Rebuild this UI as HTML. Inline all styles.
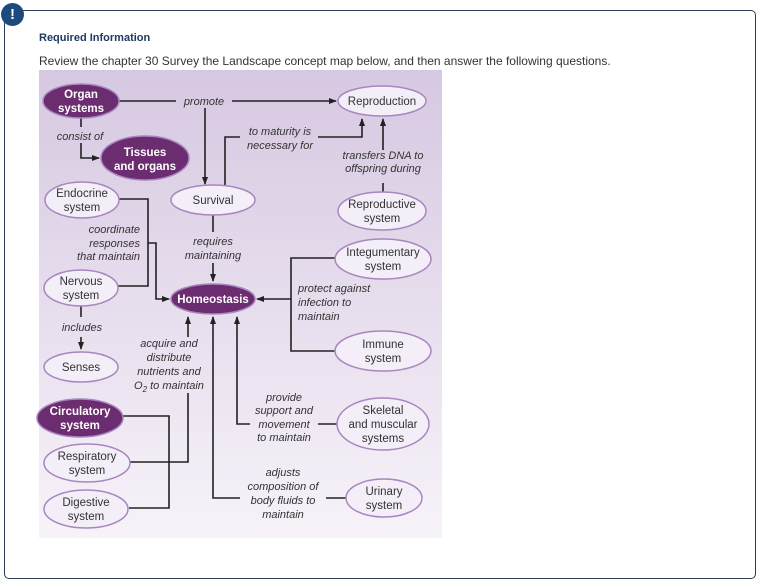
<!DOCTYPE html>
<html><head><meta charset="utf-8"><style>
body{margin:0;width:777px;height:587px;background:#fff;position:relative;overflow:hidden;font-family:"Liberation Sans",sans-serif}
.box{position:absolute;left:4px;top:10px;width:750px;height:567px;border:1.5px solid #2c3e55;border-radius:5px}
.ic{position:absolute;left:1px;top:3px;width:23px;height:23px;border-radius:50%;background:#1d4a7c;color:#fff;font-weight:bold;font-size:15px;text-align:center;line-height:23px}
.h{position:absolute;left:39px;top:32px;font-size:11px;font-weight:bold;color:#1f3a60}
.d{position:absolute;left:39px;top:54px;font-size:12px;color:#333}
svg{position:absolute;left:0;top:0}
</style></head><body>
<div class="box"></div><div class="ic">!</div>
<div class="h">Required Information</div>
<div class="d">Review the chapter 30 Survey the Landscape concept map below, and then answer the following questions.</div>
<svg width="777" height="587" font-family="Liberation Sans, sans-serif">
<defs>
<linearGradient id="g" x1="0" y1="0" x2="0" y2="1"><stop offset="0" stop-color="#d6c8e1"/><stop offset="1" stop-color="#f7f3f9"/></linearGradient>
<marker id="a" markerWidth="8" markerHeight="8" refX="7" refY="4" orient="auto" markerUnits="userSpaceOnUse"><path d="M0,1 L8,4 L0,7z" fill="#222"/></marker>
</defs>
<rect x="39" y="70" width="403" height="468" fill="url(#g)"/>
<g stroke="#222" stroke-width="1.6" fill="none">
<path d="M119,101H176M232,101H336" marker-end="url(#a)"/>
<path d="M205,108V184" marker-end="url(#a)"/>
<path d="M225,185V137H240M318,137H362V119" marker-end="url(#a)"/>
<path d="M383,192V183M383,150V119" marker-end="url(#a)"/>
<path d="M81,118V127M81,143V158H99" marker-end="url(#a)"/>
<path d="M119,199H148V286H118M148,243H156V299H169" marker-end="url(#a)"/>
<path d="M213,215V232M213,263V281" marker-end="url(#a)"/>
<path d="M335,258H291V351H335M291,299H257" marker-end="url(#a)"/>
<path d="M81,306V317M81,337V349" marker-end="url(#a)"/>
<path d="M123,416H169V508H129M130,462H188V393M188,337V317" marker-end="url(#a)"/>
<path d="M337,424H318M250,424H237V317" marker-end="url(#a)"/>
<path d="M346,498H326M240,498H213V317" marker-end="url(#a)"/>
</g>
<g stroke="#a886bf" stroke-width="1.5">
<ellipse cx="81" cy="101" rx="38" ry="17" fill="#6b2c70"/>
<ellipse cx="145" cy="158" rx="44" ry="22" fill="#6b2c70"/>
<ellipse cx="213" cy="299" rx="42" ry="15" fill="#6b2c70"/>
<ellipse cx="80" cy="418" rx="43" ry="19" fill="#6b2c70"/>
<g fill="#f3eef7">
<ellipse cx="382" cy="101" rx="44" ry="15"/>
<ellipse cx="82" cy="200" rx="37" ry="18"/>
<ellipse cx="213" cy="200" rx="42" ry="15"/>
<ellipse cx="382" cy="211" rx="44" ry="19"/>
<ellipse cx="383" cy="259" rx="48" ry="20"/>
<ellipse cx="81" cy="288" rx="37" ry="18"/>
<ellipse cx="81" cy="367" rx="37" ry="15"/>
<ellipse cx="383" cy="351" rx="48" ry="20"/>
<ellipse cx="87" cy="463" rx="43" ry="19"/>
<ellipse cx="383" cy="424" rx="46" ry="26"/>
<ellipse cx="86" cy="509" rx="42" ry="19"/>
<ellipse cx="384" cy="498" rx="38" ry="19"/>
</g></g>
<g font-size="11.5" text-anchor="middle" fill="#fff" font-weight="bold">
<text x="81" y="98">Organ</text><text x="81" y="112">systems</text>
<text x="145" y="156">Tissues</text><text x="145" y="170">and organs</text>
<text x="213" y="303">Homeostasis</text>
<text x="80" y="415">Circulatory</text><text x="80" y="429">system</text>
</g>
<g font-size="11.5" text-anchor="middle" fill="#333">
<text x="382" y="105">Reproduction</text>
<text x="82" y="197">Endocrine</text><text x="82" y="211">system</text>
<text x="213" y="204">Survival</text>
<text x="382" y="208">Reproductive</text><text x="382" y="222">system</text>
<text x="383" y="256">Integumentary</text><text x="383" y="270">system</text>
<text x="81" y="285">Nervous</text><text x="81" y="299">system</text>
<text x="81" y="371">Senses</text>
<text x="383" y="348">Immune</text><text x="383" y="362">system</text>
<text x="87" y="460">Respiratory</text><text x="87" y="474">system</text>
<text x="383" y="414">Skeletal</text><text x="383" y="428">and muscular</text><text x="383" y="442">systems</text>
<text x="86" y="506">Digestive</text><text x="86" y="520">system</text>
<text x="384" y="495">Urinary</text><text x="384" y="509">system</text>
</g>
<g font-size="11" font-style="italic" text-anchor="middle" fill="#333">
<text x="204" y="105">promote</text>
<text x="280" y="135">to maturity is</text><text x="280" y="149">necessary for</text>
<text x="383" y="159">transfers DNA to</text><text x="383" y="172">offspring during</text>
<text x="80" y="140">consist of</text>
<text x="140" y="233" text-anchor="end">coordinate</text><text x="140" y="247" text-anchor="end">responses</text><text x="140" y="260" text-anchor="end">that maintain</text>
<text x="213" y="245">requires</text><text x="213" y="259">maintaining</text>
<text x="298" y="292" text-anchor="start">protect against</text><text x="298" y="306" text-anchor="start">infection to</text><text x="298" y="320" text-anchor="start">maintain</text>
<text x="82" y="331">includes</text>
<text x="169" y="347">acquire and</text><text x="169" y="361">distribute</text><text x="169" y="375">nutrients and</text><text x="169" y="389">O<tspan font-size="8" dy="3">2</tspan><tspan dy="-3"> to maintain</tspan></text>
<text x="284" y="401">provide</text><text x="284" y="414">support and</text><text x="284" y="428">movement</text><text x="284" y="441">to maintain</text>
<text x="283" y="476">adjusts</text><text x="283" y="490">composition of</text><text x="283" y="504">body fluids to</text><text x="283" y="518">maintain</text>
</g>
</svg>
</body></html>
